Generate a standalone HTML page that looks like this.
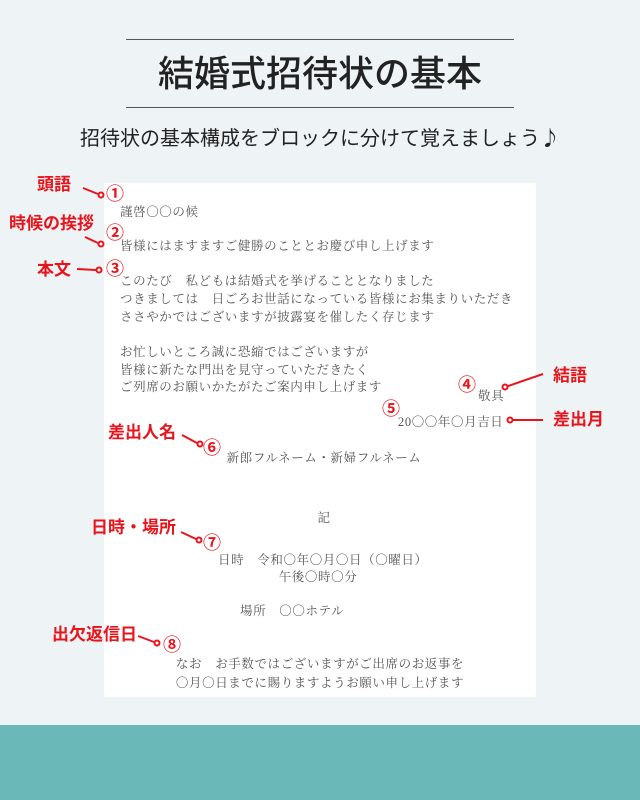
<!DOCTYPE html>
<html><head><meta charset="utf-8"><style>
body{margin:0;width:640px;height:800px;position:relative;overflow:hidden;background:#eef4f5;font-family:"Liberation Serif","Noto Serif CJK SC",serif}
.a{position:absolute;white-space:nowrap;line-height:1}
.card{position:absolute;left:104px;top:183px;width:432px;height:514px;background:#fff}
.t{font-size:12.5px;color:#555;letter-spacing:0.6px}
.r{color:#e8141c;font-weight:bold;font-size:17px;font-family:"Liberation Sans","Noto Sans CJK JP",sans-serif}
.n{color:#e8141c;font-size:18px;font-weight:bold;font-family:"Liberation Sans","Noto Sans CJK JP",sans-serif}
.c{text-align:center;transform:translateX(-50%)}
</style></head><body>
<div style="position:absolute;left:0;top:725px;width:640px;height:75px;background:#6bb8b8"></div>
<div style="position:absolute;left:126px;top:39px;width:388px;height:1px;background:#555"></div>
<div style="position:absolute;left:126px;top:107px;width:388px;height:1px;background:#555"></div>
<div class="a c" style="left:320px;top:53px;font-size:36px;color:#222;font-weight:500;font-family:'Noto Sans CJK JP',sans-serif">結婚式招待状の基本</div>
<div class="a c" style="left:320px;top:127px;font-size:20px;color:#222;font-family:'Noto Sans CJK JP',sans-serif">招待状の基本構成をブロックに分けて覚えましょう♪</div>
<div class="card"></div>
<div class="a t" style="left:120px;top:206px">謹啓〇〇の候</div>
<div class="a t" style="left:120px;top:240px">皆様にはますますご健勝のこととお慶び申し上げます</div>
<div class="a t" style="left:120px;top:275px">このたび　私どもは結婚式を挙げることとなりました</div>
<div class="a t" style="left:120px;top:293px">つきましては　日ごろお世話になっている皆様にお集まりいただき</div>
<div class="a t" style="left:120px;top:311px">ささやかではございますが披露宴を催したく存じます</div>
<div class="a t" style="left:120px;top:346px">お忙しいところ誠に恐縮ではございますが</div>
<div class="a t" style="left:120px;top:364px">皆様に新たな門出を見守っていただきたく</div>
<div class="a t" style="left:120px;top:381px">ご列席のお願いかたがたご案内申し上げます</div>
<div class="a t" style="left:478px;top:390px">敬具</div>
<div class="a t" style="left:398px;top:416px">20〇〇年〇月吉日</div>
<div class="a t c" style="left:324px;top:452px">新郎フルネーム・新婦フルネーム</div>
<div class="a t c" style="left:324px;top:512px">記</div>
<div class="a t" style="left:218px;top:554px">日時　令和〇年〇月〇日（〇曜日）</div>
<div class="a t c" style="left:318px;top:571px">午後〇時〇分</div>
<div class="a t" style="left:240px;top:605px">場所　〇〇ホテル</div>
<div class="a t c" style="left:320px;top:658px">なお　お手数ではございますがご出席のお返事を</div>
<div class="a t c" style="left:320px;top:677px">〇月〇日までに賜りますようお願い申し上げます</div>

<div class="a r" style="left:37px;top:176px">頭語</div>
<div class="a r" style="left:9px;top:215px">時候の挨拶</div>
<div class="a r" style="left:37px;top:261px">本文</div>
<div class="a r" style="left:553px;top:367px">結語</div>
<div class="a r" style="left:553px;top:411px">差出月</div>
<div class="a r" style="left:108px;top:424px">差出人名</div>
<div class="a r" style="left:91px;top:519px">日時・場所</div>
<div class="a r" style="left:52px;top:626px">出欠返信日</div>

<div class="a n" style="left:106px;top:185px">①</div>
<div class="a n" style="left:106px;top:224px">②</div>
<div class="a n" style="left:106px;top:260px">③</div>
<div class="a n" style="left:458px;top:376px">④</div>
<div class="a n" style="left:382px;top:400px">⑤</div>
<div class="a n" style="left:203px;top:439px">⑥</div>
<div class="a n" style="left:203px;top:534px">⑦</div>
<div class="a n" style="left:163px;top:636px">⑧</div>

<svg style="position:absolute;left:0;top:0" width="640" height="800">
<g stroke="#e8141c" stroke-width="2" fill="#fff">
<line x1="83" y1="188" x2="98" y2="194"/><circle cx="101" cy="195" r="2.5"/>
<line x1="85" y1="237" x2="98" y2="243"/><circle cx="101" cy="244" r="2.5"/>
<line x1="77" y1="269" x2="96" y2="270"/><circle cx="99" cy="270" r="2.5"/>
<line x1="543" y1="374" x2="508" y2="386"/><circle cx="505" cy="387" r="2.5"/>
<line x1="543" y1="420" x2="513" y2="420"/><circle cx="510" cy="420" r="2.5"/>
<line x1="182" y1="435" x2="197" y2="443"/><circle cx="200" cy="444" r="2.5"/>
<line x1="181" y1="532" x2="196" y2="539"/><circle cx="199" cy="540" r="2.5"/>
<line x1="138" y1="636" x2="154" y2="642"/><circle cx="157" cy="643" r="2.5"/>
</g></svg>
</body></html>
